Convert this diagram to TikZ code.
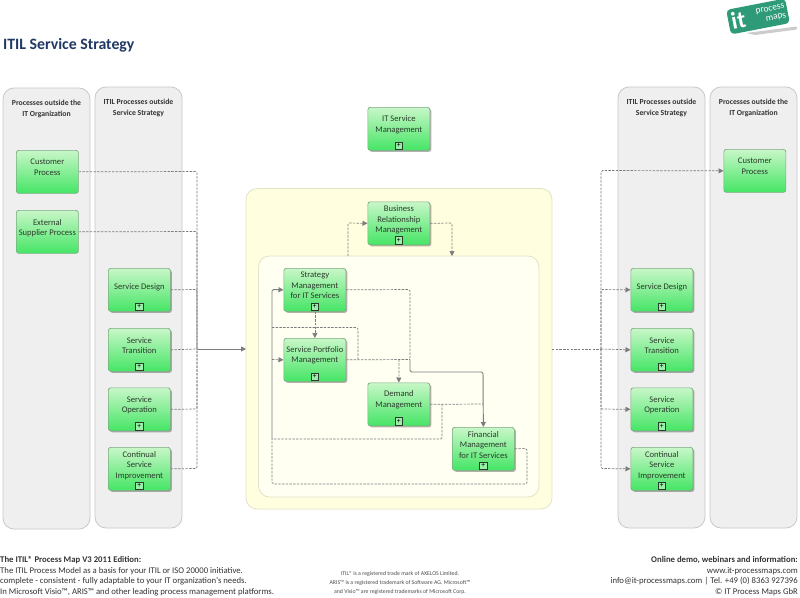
\documentclass[tikz,border=0pt]{standalone}
\usepackage{fontspec}
\setmainfont{Carlito}
\usetikzlibrary{arrows.meta,shadows,calc}
\definecolor{panelfill}{HTML}{EFEFEF}
\definecolor{paneledge}{HTML}{C8C8C8}
\definecolor{boxedge}{HTML}{7DAA82}
\definecolor{boxtop}{HTML}{C8F7C8}
\definecolor{boxbot}{HTML}{45E565}
\definecolor{linec}{HTML}{7C7C7C}
\definecolor{txt}{HTML}{2B3B2B}
\definecolor{logoc}{HTML}{2F9A78}
\definecolor{titlec}{HTML}{1F3864}
\definecolor{yellowa}{HTML}{FFFFE0}
\definecolor{yellowb}{HTML}{FFFFF2}
\definecolor{yedge}{HTML}{E2E2C8}
\tikzset{
 x=1pt,y=-1pt,
 panel/.style={draw=paneledge,fill=panelfill,line width=.8pt,rounded corners=11pt},
 ptitle/.style={font=\bfseries\fontsize{7.7}{10.3}\selectfont,text=black!80,align=center,inner sep=0},
 proc/.style={draw=boxedge,line width=.7pt,rounded corners=2.5pt,top color=boxtop,bottom color=boxbot,
   minimum width=62pt,minimum height=43pt,inner sep=0,anchor=north west},
 shadowed/.style={drop shadow={shadow xshift=1.5pt,shadow yshift=-1.5pt,fill=black,opacity=.3}},
 ptext/.style={font=\fontsize{8.6}{10.6}\selectfont,text=txt,align=center,inner sep=0},
 plus/.style={draw=txt,fill=boxbot!55!white,line width=.5pt,minimum size=7.5pt,inner sep=0,font=\fontsize{7.5}{7.5}\selectfont,text=black},
 dashc/.style={draw=linec,line width=.7pt,dash pattern=on 2.4pt off 1.3pt,rounded corners=1.5pt},
 solidc/.style={draw=linec,line width=.95pt,rounded corners=1.5pt},
 tipc/.style={-{Triangle[length=5pt,width=5pt,fill=linec]}},
 foot/.style={font=\fontsize{8.7}{10.4}\selectfont,text=black!80,inner sep=0},
 footb/.style={foot,font=\bfseries\fontsize{8.7}{10}\selectfont},
}
\newcommand{\procbox}[6]{% name, x, y, text, text offset, extra
 \node[proc,#6] (#1) at (#2,#3) {};
 \node[ptext,anchor=north] (#1t) at ($(#1.north)+(0,#5)$) {#4};
}
\newcommand{\plusmark}[1]{\node[plus,anchor=south] (#1p) at ($(#1.south)+(0,-1)$) {+};}
\begin{document}
\begin{tikzpicture}
\useasboundingbox (0,0) rectangle (800,597);
\fill[white] (0,0) rectangle (800,597);

% title
\node[anchor=west,inner sep=0,font=\bfseries\fontsize{15.8}{18}\selectfont,text=titlec] (title) at (3,45) {ITIL Service Strategy};

% logo
\fill[black!20,rounded corners=1pt] (746,33) -- (797,26.5) -- (797,29.5) -- (755,35) -- cycle;
\begin{scope}[shift={(758,16.5)},rotate=11]
 \node[fill=logoc,rounded corners=4pt,minimum width=60pt,minimum height=25pt,inner sep=0,rotate=11] (logobox) at (0,0) {};
 \node[text=white,font=\bfseries\fontsize{24}{24}\selectfont,inner sep=0,rotate=11] (logoit) at (-20,0) {it};
 \node[text=white,font=\fontsize{9.4}{9.4}\selectfont,align=right,inner sep=0,anchor=east,rotate=11] (logotx) at (28,0) {process\\maps};
\end{scope}

% panels
\draw[panel] (3,88) rectangle (90,529);
\draw[panel] (95,87) rectangle (182,528);
\draw[panel] (618,87) rectangle (705,528);
\draw[panel] (710,87) rectangle (797,528);
\node[ptitle] (pa) at (46.5,109) {Processes outside the\\IT Organization};
\node[ptitle] (pb) at (138.5,108) {ITIL Processes outside\\Service Strategy};
\node[ptitle] (pc) at (661.5,108) {ITIL Processes outside\\Service Strategy};
\node[ptitle] (pd) at (753.5,108) {Processes outside the\\IT Organization};

% yellow containers
\draw[draw=yedge,fill=yellowa,line width=.8pt,rounded corners=11pt] (246,188.5) rectangle (552,509);
\draw[draw=yedge,fill=yellowb,line width=.8pt,rounded corners=11pt] (258.5,256) rectangle (539,497);

% nodes
\procbox{cl}{16}{150}{Customer\\Process}{9}{}
\procbox{ex}{16}{210}{External\\Supplier Process}{9}{}
\procbox{cr}{723.5}{149}{Customer\\Process}{9}{}

\procbox{sd}{108}{268}{Service Design}{15}{shadowed}\plusmark{sd}
\procbox{st}{108}{328}{Service\\Transition}{9.2}{shadowed}\plusmark{st}
\procbox{so}{108}{387.5}{Service\\Operation}{8.7}{shadowed}\plusmark{so}
\procbox{ci}{108}{447}{Continual\\Service\\Improvement}{4}{shadowed}\plusmark{ci}

\procbox{rd}{630.5}{268}{Service Design}{15}{shadowed}\plusmark{rd}
\procbox{rt}{630.5}{328}{Service\\Transition}{9.2}{shadowed}\plusmark{rt}
\procbox{ro}{630.5}{387.5}{Service\\Operation}{8.7}{shadowed}\plusmark{ro}
\procbox{ri}{630.5}{447}{Continual\\Service\\Improvement}{4}{shadowed}\plusmark{ri}

\procbox{itsm}{367.5}{107}{IT Service\\Management}{8.5}{shadowed}\plusmark{itsm}
\procbox{brm}{367.5}{201.5}{Business\\Relationship\\Management}{4}{shadowed}\plusmark{brm}
\procbox{sm}{283.5}{268}{Strategy\\Management\\for IT Services}{4}{shadowed}\plusmark{sm}
\procbox{spm}{283.5}{338}{Service Portfolio\\Management}{8}{shadowed}\plusmark{spm}
\procbox{dm}{367.5}{382.5}{Demand\\Management}{8}{shadowed}\plusmark{dm}
\procbox{fm}{452}{427}{Financial\\Management\\for IT Services}{4}{shadowed}\plusmark{fm}

% free junctions
\coordinate (lbus) at (197,349);
\coordinate (rbus) at (601,349);
\coordinate (ymid) at (246,349);
\coordinate (yrmid) at (552,349);
\coordinate (inA) at (348,256);
\coordinate (inB) at (452,256);

% left inputs
\draw[dashc] (cl.east) -- (197,171.5) -- (lbus);
\draw[dashc] (ex.east) -- (197,231.5) -- (lbus);
\draw[dashc] (sd.east) -- (197,289.5) -- (lbus);
\draw[dashc] (st.east) -- (lbus);
\draw[dashc] (so.east) -- (197,409) -- (lbus);
\draw[dashc] (ci.east) -- (197,468.5) -- (lbus);
\draw[solidc,tipc] (lbus) -- (ymid);

% right outputs
\draw[dashc] (yrmid) -- (rbus);
\draw[dashc,tipc] (rbus) -- (601,170.5) -- (cr.west);
\draw[dashc,tipc] (rbus) -- (601,289.5) -- (rd.west);
\draw[dashc,tipc] (rbus) -- (rt.west);
\draw[dashc,tipc] (rbus) -- (601,409) -- (ro.west);
\draw[dashc,tipc] (rbus) -- (601,468.5) -- (ri.west);

% BRM loop
\draw[dashc,tipc] (inA) -- (348,223) -- (brm.west);
\draw[dashc,tipc] (brm.east) -- (452,223) -- (inB);

% inner
\draw[dashc,tipc] (sm.south) -- (spm.north);
\draw[dashc] (sm.east) -- (410,289.5) -- (410,359.5);
\draw[dashc] (spm.east) -- (410,359.5);
\draw[solidc,tipc] (410,359.5) -- (410,372) -- (483,372) -- (fm.north);
\draw[dashc,tipc] (399,359.5) -- (dm.north);
\draw[dashc] (358,359.5) -- (358,327.5) -- (272,327.5);
\draw[dashc] (dm.east) -- (483,404);
\draw[dashc] (442,404) -- (442,439) -- (272,439);
\draw[dashc] (fm.east) -- (527,448.5) -- (527,484) -- (272,484) -- (272,439);
\draw[solidc,tipc] (272,439) -- (272,289.5) -- (sm.west);
\draw[dashc,tipc] (272,359.5) -- (spm.west);

% footer
\node[footb,anchor=west] (f1) at (0,560.5) {The ITIL® Process Map V3 2011 Edition:};
\node[foot,anchor=west] (f2) at (0,571) {The ITIL Process Model as a basis for your ITIL or ISO 20000 initiative.};
\node[foot,anchor=west] (f3) at (0,581.5) {complete - consistent - fully adaptable to your IT organization`s needs.};
\node[foot,anchor=west] (f4) at (0,592) {In Microsoft Visio™, ARIS™ and other leading process management platforms.};
\node[foot,align=center,font=\fontsize{5.8}{8.9}\selectfont,text=black!70] (f5) at (400,583) {ITIL® is a registered trade mark of AXELOS Limited.\\ARIS™ is a  registered trademark of Software AG. Microsoft™\\and Visio™ are registered trademarks of Microsoft Corp.};
\node[footb,anchor=east] (f6) at (798,560.5) {Online demo, webinars and information:};
\node[foot,anchor=east] (f7) at (798,571) {www.it-processmaps.com};
\node[foot,anchor=east] (f8) at (798,581.5) {info@it-processmaps.com | Tel. +49 (0) 8363 927396};
\node[foot,anchor=east] (f9) at (798,592) {© IT Process Maps GbR};
\end{tikzpicture}
\end{document}
